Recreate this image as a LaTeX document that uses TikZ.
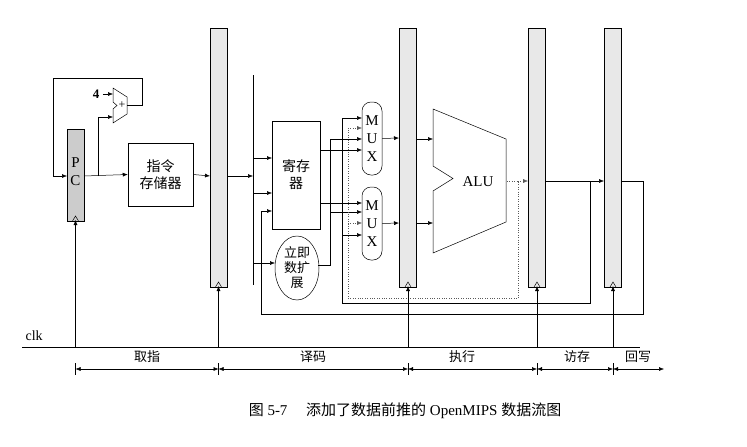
\documentclass[tikz,border=0pt]{standalone}
\usepackage{fontspec}
\setmainfont{Liberation Serif}
\newfontfamily\cjk{Noto Sans CJK SC}
\usetikzlibrary{arrows.meta,shapes.geometric}
\tikzset{
 ar/.style={-{Latex[length=5pt,width=4pt]}},
 bar/.style={draw,fill=gray!18,inner sep=0,minimum width=17pt},
 box/.style={draw,inner sep=0,align=center,font=\cjk\fontsize{14}{17}\selectfont},
 mux/.style={draw,rounded corners=9pt,inner sep=0,minimum width=20pt,minimum height=73pt,align=center,font=\fontsize{15}{18}\selectfont},
 lbl/.style={font=\cjk\fontsize{13}{15}\selectfont},
 dot/.style={dotted,line width=0.4pt,gray!70!black}
}
\begin{document}
\begin{tikzpicture}[x=1pt,y=-1pt,line width=0.5pt]
\useasboundingbox (0,0) rectangle (747,447);
% pipeline bars
\node[bar,fill=gray!40,minimum height=92pt] (pc) at (75.5,175) {};
\node[font=\fontsize{15}{18}\selectfont,align=center] at (75.5,172) {P\\C};
\node[bar,minimum height=259pt] (b1) at (218.5,157.5) {};
\node[bar,minimum height=259pt] (b2) at (408,157.5) {};
\node[bar,minimum height=259pt] (b3) at (537,157.5) {};
\node[bar,minimum height=259pt] (b4) at (613,157.5) {};
\foreach \x/\y in {75.5/221,218.5/287,408/287,537/287,613/287}
  \draw (\x-3,\y) -- (\x,\y-5) -- (\x+3,\y);
% adder
\draw (113,88) -- (127,97) -- (127,114) -- (113,123) -- (113,109) -- (117,105.5) -- (113,102) -- cycle;
\node[font=\fontsize{12}{14}\selectfont] (add) at (122,105) {+};
\node[font=\fontsize{13}{15}\selectfont\bfseries] (four) at (96,94) {4};
\draw[ar] (four.east) -- (113,94);
\draw[ar] (127,105) -- (142,105) -- (142,78) -- (53,78) -- (53,176) -- (67,176);
% instruction memory
\node[box,minimum width=65pt,minimum height=63pt] (im) at (160.5,174.5) {指令\\存储器};
\draw[ar] (84,176) -- (im.west);
\draw[ar] (98,176) -- (98,117) -- (113,117);
\draw[ar] (im.east) -- (210,176);
% decode
\draw (253,75) -- (253,285);
\draw[ar] (227,176) -- (253,176);
\node[box,minimum width=48pt,minimum height=108pt] (rf) at (296,175) {寄存\\器};
\node[box,ellipse,inner sep=0,minimum width=44pt,minimum height=64pt,font=\cjk\fontsize{13}{15}\selectfont] (imm) at (297,268) {立即\\数扩\\展};
\draw[ar] (253,158) -- (272,158);
\draw[ar] (253,193) -- (272,193);
\draw[ar] (253,263) -- (275,263);
% MUXes
\node[mux] (m1) at (372,138.5) {M\\U\\X};
\node[mux] (m2) at (372,223.5) {M\\U\\X};
\draw[ar] (320,150) -- (362,150);
\draw[ar] (320,203) -- (362,203);
\draw (318,265) -- (330,265) -- (330,139);
\draw[ar] (330,139) -- (362,139);
\draw[ar] (330,212) -- (362,212);
% forwarding from MEM (solid)
\draw[ar] (590,181) -- (590,303) -- (342,303) -- (342,118) -- (362,118);
\draw[ar] (342,235) -- (362,235);
% forwarding from EX (dotted)
\draw[dot] (507,181) -- (518,181) -- (518,298) -- (348,298) -- (348,128);
\draw[dot,ar] (348,128) -- (362,128);
\draw[dot,ar] (348,223) -- (362,223);
\draw[dot,ar] (518,181) -- (528,181);
% writeback
\draw[ar] (622,181) -- (643,181) -- (643,314) -- (261,314) -- (261,211) -- (272,211);
\draw[ar] (m1.east) -- (399,138);
\draw[ar] (m2.east) -- (399,223);
% ALU
\draw (433,109) -- (506,139) -- (506,222) -- (433,253) -- (433,191) -- (453,178.5) -- (433,166) -- cycle;
\node[font=\fontsize{15}{18}\selectfont] (alu) at (478,182) {ALU};
\draw[ar] (417,139) -- (433,139);
\draw[ar] (417,223) -- (433,223);
\draw[ar] (546,181) -- (604,181);
% clock
\node[font=\fontsize{14}{16}\selectfont,anchor=west] (clk) at (22,336) {clk};
\draw (22,347) -- (640,347);
\foreach \x/\y in {75.5/221,218.5/287,408/287,537/287,613/287}
  \draw[ar] (\x,347) -- (\x,\y-1);
% stage dimension lines
\foreach \x in {75.5,218.5,408,537,613} \draw (\x,363) -- (\x,375);
\draw[{Latex[length=5pt,width=4pt]}-{Latex[length=5pt,width=4pt]}] (75.5,369) -- (218.5,369);
\draw[{Latex[length=5pt,width=4pt]}-{Latex[length=5pt,width=4pt]}] (218.5,369) -- (408,369);
\draw[{Latex[length=5pt,width=4pt]}-{Latex[length=5pt,width=4pt]}] (408,369) -- (537,369);
\draw[{Latex[length=5pt,width=4pt]}-{Latex[length=5pt,width=4pt]}] (537,369) -- (613,369);
\draw[{Latex[length=5pt,width=4pt]}-{Latex[length=5pt,width=4pt]}] (613,369) -- (664,369);
\node[lbl] at (147,357) {取指};
\node[lbl] at (313,357) {译码};
\node[lbl] at (462,357) {执行};
\node[lbl] at (577,357) {访存};
\node[lbl] at (638,357) {回写};
\node[font=\fontsize{15}{18}\selectfont] at (405,411) {{\cjk 图} 5-7\quad\ {\cjk 添加了数据前推的} OpenMIPS {\cjk 数据流图}};
\end{tikzpicture}
\end{document}
